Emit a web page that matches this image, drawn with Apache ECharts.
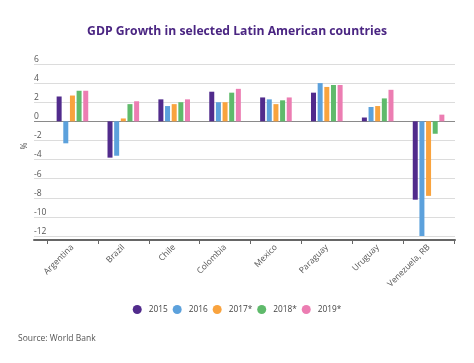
<!DOCTYPE html>
<html><head><meta charset="utf-8">
<script src="https://cdn.jsdelivr.net/npm/echarts@6/dist/echarts.min.js"></script>
<style>html,body{margin:0;padding:0;background:#fff}#c{width:474px;height:363px}</style>
</head><body><div id="c"></div>
<script>
const categories = ['Argentina','Brazil','Chile','Colombia','Mexico','Paraguay','Uruguay','Venezuela, RB'];
const seriesNames = ['2015','2016','2017*','2018*','2019*'];
const v2015 = [2.6, -3.8, 2.3, 3.1, 2.5, 3.0, 0.4, -8.2];
const v2016 = [-2.3, -3.6, 1.6, 2.0, 2.3, 4.0, 1.5, -12];
const v2017 = [2.7, 0.3, 1.8, 2.0, 1.8, 3.6, 1.6, -7.8];
const v2018 = [3.2, 1.8, 2.0, 3.0, 2.2, 3.8, 2.4, -1.3];
const v2019 = [3.2, 2.1, 2.3, 3.4, 2.5, 3.8, 3.3, 0.7];
const colors = ['#512b8c','#5ca1dc','#f9a33e','#5fba6b','#ec7db2'];
const yMin = -12, yMax = 6, yStep = 2;

const allValues = [v2015, v2016, v2017, v2018, v2019];
const splitColors = [];
for (let v = yMin; v <= yMax; v += yStep) splitColors.push(v === 0 ? '#8a8a8a' : '#dcdcdc');

const chart = echarts.init(document.getElementById('c'), null, {renderer: 'canvas'});
chart.setOption({
  animation: false,
  color: colors,
  title: {
    text: 'GDP Growth in selected Latin American countries',
    left: 'center', top: 21,
    textStyle: {fontFamily: 'Open Sans', fontWeight: 'bold', fontSize: 12.2, color: '#4a2582'}
  },
  graphic: [
    {type: 'text', left: 18, top: 334,
     style: {text: 'Source: World Bank', fontFamily: 'Open Sans', fontSize: 8.5, fill: '#555'}},
    {type: 'text', x: 25, y: 146, rotation: Math.PI / 2,
     style: {text: '%', fontFamily: 'Open Sans', fontSize: 8.5, fill: '#555', align: 'center', verticalAlign: 'middle'}}
  ],
  legend: {
    bottom: 44, left: 'center',
    icon: 'circle', itemWidth: 9, itemHeight: 9, itemGap: 5,
    textStyle: {fontFamily: 'Open Sans', fontSize: 8.3, color: '#444', padding: [0, 0, 0, 2]},
    data: seriesNames
  },
  grid: [
    {left: 34, right: 19, top: 64, bottom: 127},
    {left: 47, right: 20, top: 64, bottom: 127}
  ],
  xAxis: [
    {gridIndex: 0, type: 'category', data: categories, offset: 4,
     axisLine: {onZero: false, lineStyle: {color: '#666', width: 2}},
     axisTick: {show: false}, axisLabel: {show: false}, splitLine: {show: false}},
    {gridIndex: 1, type: 'category', data: categories, offset: 4,
     axisLine: {show: false, onZero: false},
     axisTick: {show: true, length: 4, lineStyle: {color: '#666'}},
     axisLabel: {rotate: 45, fontFamily: 'Open Sans', fontSize: 8.5, color: '#555', margin: 6, interval: 0}}
  ],
  yAxis: [
    {gridIndex: 0, type: 'value', min: yMin, max: yMax, interval: yStep,
     axisLine: {show: false}, axisTick: {show: false},
     axisLabel: {align: 'left', verticalAlign: 'bottom', margin: 0, padding: [0,0,0,0],
                 fontFamily: 'Open Sans', fontSize: 8.5, color: '#555'},
     splitLine: {lineStyle: {color: splitColors, width: 1}}},
    {gridIndex: 1, type: 'value', min: yMin, max: yMax, interval: yStep,
     axisLine: {show: false}, axisTick: {show: false}, axisLabel: {show: false}, splitLine: {show: false}}
  ],
  series: seriesNames.map((n, i) => ({
    name: n, type: 'bar', xAxisIndex: 1, yAxisIndex: 1,
    data: allValues[i], barWidth: 5, barGap: '33%'
  }))
});
</script></body></html>
